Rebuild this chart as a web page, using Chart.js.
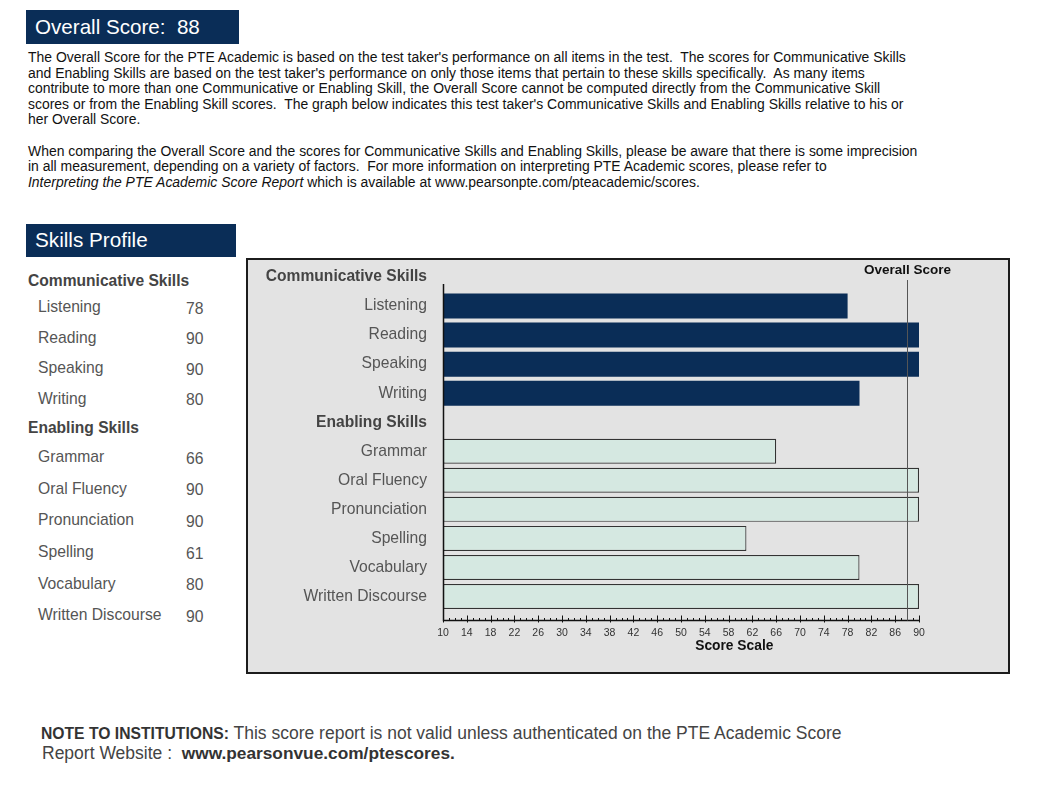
<!DOCTYPE html>
<html>
<head>
<meta charset="utf-8">
<title>Skills Profile</title>
<script src="https://cdn.jsdelivr.net/npm/chart.js@4.4.0/dist/chart.umd.min.js"></script>
<style>
    body {
        margin: 0;
        width: 1046px;
        height: 800px;
        position: relative;
        overflow: hidden;
        background: #fff;
        font-family: Arial, "Liberation Sans", sans-serif;
    }
    .banner {
        position: absolute;
        left: 26px;
        background: #0a2d57;
        color: #fff;
        padding-left: 9px;
        box-sizing: border-box;
        white-space: pre;
    }
    #overall-banner { top: 10px; width: 213px; height: 34px; line-height: 34px; font-size: 20.6px; }
    #skills-banner { top: 224px; width: 210px; height: 33px; line-height: 31px; font-size: 20.7px; }
    #intro {
        position: absolute;
        left: 28px;
        top: 50px;
        margin: 0;
        font-size: 13.95px;
        line-height: 15.6px;
        color: #111;
        white-space: pre;
    }
    #profile-table {
        position: absolute;
        left: 28px;
        top: 270px;
        width: 210px;
    }
    .group-head { font-weight: bold; font-size: 15.6px; color: #444; display: flex; align-items: center; }
    .skill-row { display: flex; align-items: center; font-size: 15.7px; color: #555; }
    .skill-row .name { width: 148px; padding-left: 10px; }
    .skill-row .score { padding-top: 3px; }
    #chart-box {
        position: absolute;
        left: 246px;
        top: 258px;
        width: 764px;
        height: 416px;
        border: 2px solid #1c1c1c;
        box-sizing: border-box;
        background: #e3e3e3;
    }
    #chart-wrap { position: relative; width: 760px; height: 412px; }
    #note {
        position: absolute;
        left: 41px;
        top: 724px;
        font-size: 17.5px;
        line-height: 19.5px;
        color: #444;
        white-space: pre;
    }
    #note .lead { color: #333; font-size: 15.7px; font-weight: bold; }
    #note .site { color: #333; font-size: 17.3px; font-weight: bold; }
    #note .second { padding-left: 1px; }
</style>
</head>
<body>
<div class="banner" id="overall-banner">Overall Score:  88</div>
<p id="intro">The Overall Score for the PTE Academic is based on the test taker's performance on all items in the test.  The scores for Communicative Skills
and Enabling Skills are based on the test taker's performance on only those items that pertain to these skills specifically.  As many items
contribute to more than one Communicative or Enabling Skill, the Overall Score cannot be computed directly from the Communicative Skill
scores or from the Enabling Skill scores.  The graph below indicates this test taker's Communicative Skills and Enabling Skills relative to his or
her Overall Score.

When comparing the Overall Score and the scores for Communicative Skills and Enabling Skills, please be aware that there is some imprecision
in all measurement, depending on a variety of factors.  For more information on interpreting PTE Academic scores, please refer to
<i>Interpreting the PTE Academic Score Report</i> which is available at www.pearsonpte.com/pteacademic/scores.</p>

<div class="banner" id="skills-banner">Skills Profile</div>
<div id="profile-table"></div>

<div id="chart-box">
    <div id="chart-wrap"><canvas id="skills-chart"></canvas></div>
</div>

<div id="note"><span class="lead">NOTE TO INSTITUTIONS:</span> This score report is not valid unless authenticated on the PTE Academic Score
<span class="second">Report Website :  <span class="site">www.pearsonvue.com/ptescores.</span></span></div>

<script>
// 데이터
const overallScore = 88;
const commTitle = 'Communicative Skills';
const commSkills = ['Listening', 'Reading', 'Speaking', 'Writing'];
const commScores = [78, 90, 90, 80];
const enabTitle = 'Enabling Skills';
const enabSkills = ['Grammar', 'Oral Fluency', 'Pronunciation', 'Spelling', 'Vocabulary', 'Written Discourse'];
const enabScores = [66, 90, 90, 61, 80, 90];
const scaleMin = 10;
const scaleMax = 90;
const majorStep = 4;

const navy = '#0a2d57';
const mint = '#d5e8e1';
const fontFamily = 'Arial, "Liberation Sans", sans-serif';

// 왼쪽 점수 표
function buildTable() {
    const table = document.getElementById('profile-table');
    const group = (title, names, scores, headH, rowH) => `
        <div class="group-head" style="height:${headH}px">${title}</div>
        ${names.map((name, i) => `
            <div class="skill-row" style="height:${rowH}px">
                <span class="name">${name}</span><span class="score">${scores[i]}</span>
            </div>`).join('')}`;
    table.innerHTML = group(commTitle, commSkills, commScores, 22, 30.5) +
                      group(enabTitle, enabSkills, enabScores, 27.5, 31.6);
}

// 축, 눈금, 전체 점수선
const scoreAxisPlugin = {
    id: 'scoreAxis',
    afterDatasetsDraw(chart) {
        const { ctx, chartArea, scales: { x, y } } = chart;
        const axisY = Math.round(chartArea.bottom + 9) + 0.5;
        const left = Math.round(x.getPixelForValue(scaleMin)) + 0.5;
        const right = x.getPixelForValue(scaleMax);
        const axisTop = y.getPixelForValue(1) - 22;

        ctx.save();
        ctx.strokeStyle = '#111';
        ctx.lineWidth = 1.5;
        ctx.beginPath();
        ctx.moveTo(left, axisTop);
        ctx.lineTo(left, axisY);
        ctx.lineTo(right, axisY);
        ctx.stroke();

        ctx.lineWidth = 1;
        for (let v = scaleMin; v <= scaleMax; v++) {
            const px = Math.round(x.getPixelForValue(v)) + 0.5;
            const major = (v - scaleMin) % majorStep === 0;
            ctx.beginPath();
            ctx.moveTo(px, axisY - (major ? 5 : 2.5));
            ctx.lineTo(px, axisY + (major ? 2 : 0));
            ctx.stroke();
        }

        // 전체 점수 기준선
        const ox = Math.round(x.getPixelForValue(overallScore)) + 0.5;
        ctx.strokeStyle = '#555';
        ctx.lineWidth = 1;
        ctx.beginPath();
        ctx.moveTo(ox, y.getPixelForValue(0) + 3);
        ctx.lineTo(ox, axisY);
        ctx.stroke();

        ctx.fillStyle = '#111';
        ctx.font = 'bold 13.5px ' + fontFamily;
        ctx.textAlign = 'center';
        ctx.textBaseline = 'middle';
        ctx.fillText('Overall Score', ox, y.getPixelForValue(0) - 7);

        ctx.font = 'bold 13.8px ' + fontFamily;
        ctx.fillText('Score Scale', chartArea.left + (chartArea.right - chartArea.left) * 0.612, chartArea.bottom + 35);
        ctx.restore();
    }
};

function initializeChart() {
    const labels = [commTitle, ...commSkills, enabTitle, ...enabSkills];
    const blanks = n => Array(n).fill(null);
    const commData = [null, ...commScores, ...blanks(1 + enabSkills.length)];
    const enabData = [...blanks(2 + commSkills.length), ...enabScores];
    const headers = [commTitle, enabTitle];

    new Chart(document.getElementById('skills-chart'), {
        type: 'bar',
        data: {
            labels,
            datasets: [{
                data: commData,
                base: scaleMin,
                backgroundColor: navy,
                borderWidth: 0
            }, {
                data: enabData,
                base: scaleMin,
                backgroundColor: mint,
                borderColor: '#333',
                borderWidth: 1.2,
                borderSkipped: false
            }]
        },
        options: {
            indexAxis: 'y',
            responsive: true,
            maintainAspectRatio: false,
            animation: false,
            grouped: false,
            barPercentage: 0.86,
            categoryPercentage: 1,
            layout: { autoPadding: false, padding: { top: 2.5, right: 89, left: 0, bottom: 0 } },
            plugins: {
                legend: { display: false },
                tooltip: { enabled: false }
            },
            scales: {
                x: {
                    type: 'linear',
                    min: scaleMin,
                    max: scaleMax,
                    border: { display: false },
                    grid: { display: false, drawTicks: false },
                    afterFit: scale => { scale.height = 61; },
                    ticks: {
                        stepSize: 1,
                        autoSkip: false,
                        maxRotation: 0,
                        padding: 16,
                        color: '#333',
                        font: { family: fontFamily, size: 10.5 },
                        callback: v => ((v - scaleMin) % majorStep === 0 ? v : '')
                    }
                },
                y: {
                    border: { display: false },
                    grid: { display: false, drawTicks: false },
                    afterFit: scale => {
                        scale.width = 195;
                        scale.paddingTop = 0;
                        scale.paddingBottom = 0;
                    },
                    ticks: {
                        padding: 16,
                        autoSkip: false,
                        color: c => (headers.includes(labels[c.index]) ? '#444' : '#555'),
                        font: c => ({
                            family: fontFamily,
                            size: headers.includes(labels[c.index]) ? 15.6 : 15.7,
                            weight: headers.includes(labels[c.index]) ? 'bold' : 'normal'
                        })
                    }
                }
            }
        },
        plugins: [scoreAxisPlugin]
    });
}

document.addEventListener('DOMContentLoaded', () => {
    buildTable();
    initializeChart();
});
</script>
</body>
</html>
